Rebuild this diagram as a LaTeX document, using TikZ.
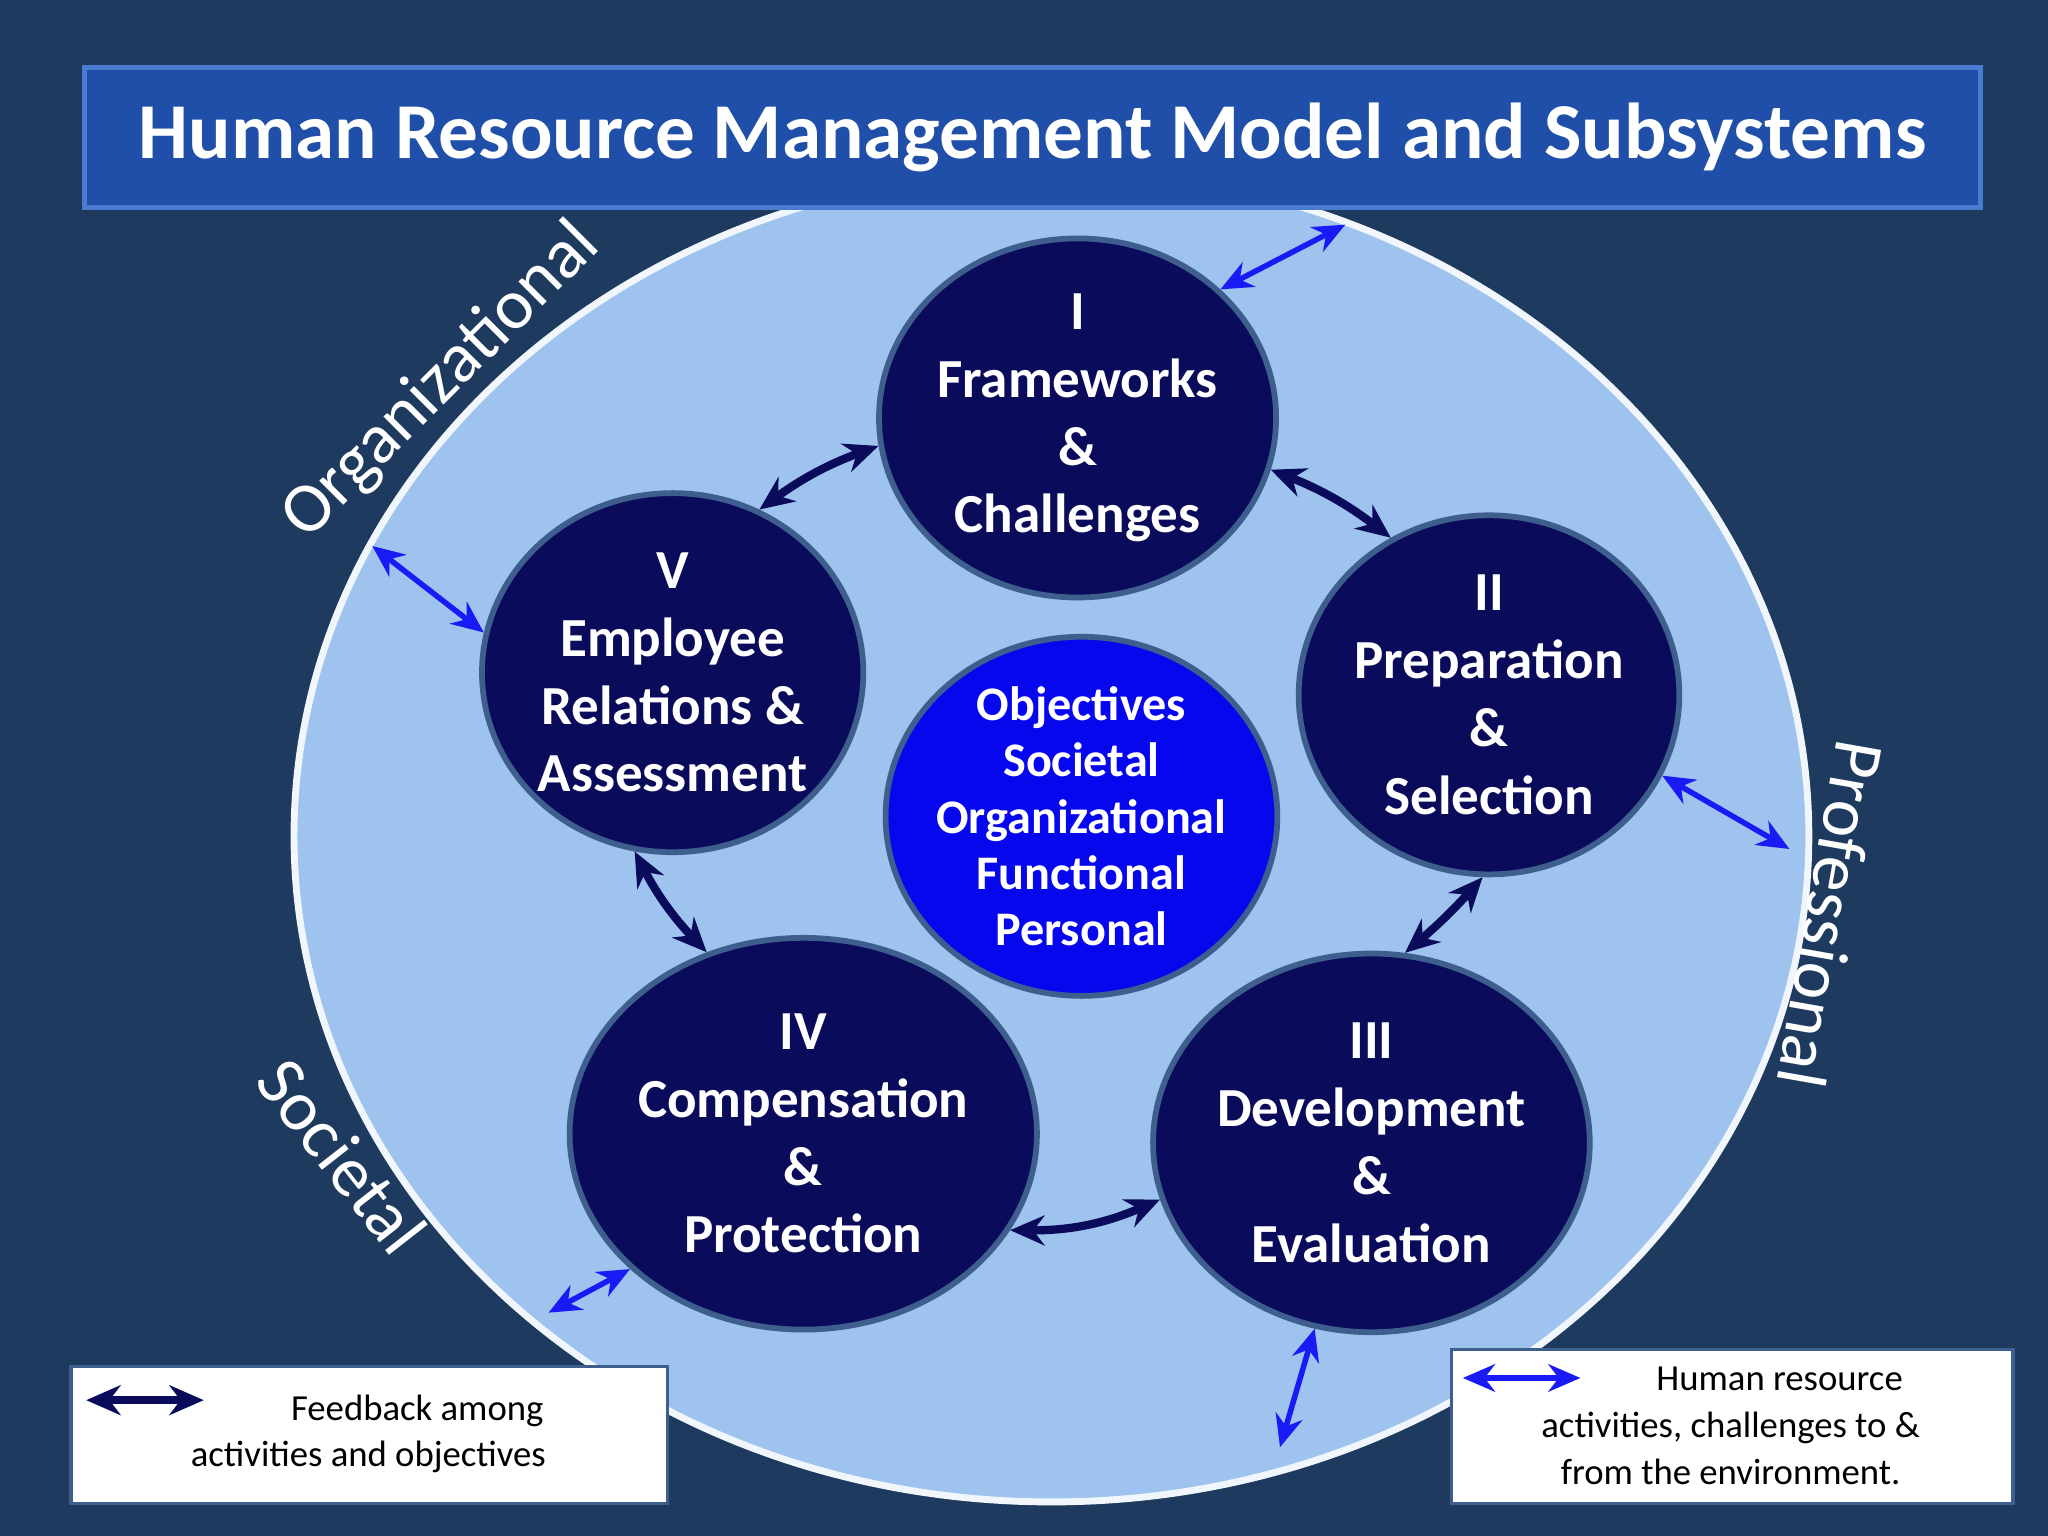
\documentclass[tikz,border=0pt]{standalone}
\usepackage{fontspec}
\setmainfont{Carlito}
\usetikzlibrary{arrows.meta,shapes.geometric,positioning}
\definecolor{bgnavy}{HTML}{1E3A5F}
\definecolor{titleblue}{HTML}{1F4FA8}
\definecolor{titleframe}{HTML}{4A7BD0}
\definecolor{fieldblue}{HTML}{9DC3EE}
\definecolor{circnavy}{HTML}{0B0B5C}
\definecolor{circframe}{HTML}{3E5E8E}
\definecolor{coreblue}{HTML}{0707EE}
\definecolor{envblue}{HTML}{1A1AF5}

\begin{document}
\begin{tikzpicture}[
    x=0.02cm, y=-0.02cm,
    >=Stealth,
    every node/.style={font=\bfseries},
    subsys/.style={
        ellipse,
        draw=circframe,
        line width=2.5pt,
        fill=circnavy,
        text=white,
        align=center,
        inner sep=0pt,
        font=\bfseries\fontsize{24}{29.5}\selectfont
    },
    feedback/.style={<->, circnavy, line width=3.6pt, >={Stealth[length=15pt,width=13pt]}},
    envarrow/.style={<->, envblue, line width=2.4pt, >={Stealth[length=14pt,width=12pt]}},
    sidelabel/.style={text=white, font=\fontsize{31}{34}\selectfont},
    legendbox/.style={rectangle, draw=circframe, line width=1.5pt, fill=white, anchor=north west}
]
    % background
    \fill[bgnavy] (0,0) rectangle (1568,1176);
    \useasboundingbox (0,0) rectangle (1568,1176);

    % environment field
    \node[ellipse, fill=fieldblue, draw=white!85!fieldblue, line width=3pt,
          minimum width=23.2cm, minimum height=20.4cm] (field) at (805,640) {};

    % title
    \node[rectangle, fill=titleblue, draw=titleframe, line width=2pt, anchor=north west,
          minimum width=29.04cm, minimum height=2.14cm] (title) at (63,50) {};
    \node[text=white, font=\bfseries\fontsize{34.5}{40}\selectfont] at (title.center)
        {Human Resource Management Model and Subsystems};

    % subsystems
    \node[subsys, minimum width=5.92cm, minimum height=5.5cm] (s1) at (825,320)
        {I\\Frameworks\\\&\\Challenges};
    \node[subsys, minimum width=5.8cm, minimum height=5.5cm] (s2) at (1140,532)
        {II\\Preparation\\\&\\Selection};
    \node[subsys, minimum width=6.5cm, minimum height=5.8cm] (s3) at (1050,875)
        {III\\Development\\\&\\Evaluation};
    \node[subsys, minimum width=6.8cm, minimum height=6cm] (s4) at (615,868)
        {IV\\Compensation\\\&\\Protection};
    \node[subsys, minimum width=5.8cm, minimum height=5.5cm] (s5) at (515,515)
        {V\\Employee\\Relations \&\\Assessment};
    \node[subsys, fill=coreblue, minimum width=6cm, minimum height=5.5cm, inner sep=-12pt,
          font=\bfseries\fontsize{21}{24.5}\selectfont] (core) at (828,625)
        {Objectives\\Societal\\Organizational\\Functional\\Personal};

    % feedback among subsystems
    \draw[feedback] (s1.188) to[bend right=8] (s5.62);
    \draw[feedback] (s1.345) to[bend left=8] (s2.122);
    \draw[feedback] (s2.268) to[bend left=4] (s3.80);
    \draw[feedback] (s3.195) to[bend left=12] (s4.335);
    \draw[feedback] (s5.258) to[bend right=8] (s4.118);

    % exchange with the environment
    \coordinate (e1) at (1030,172);
    \coordinate (e2) at (1370,650);
    \coordinate (e3) at (980,1108);
    \coordinate (e4) at (420,1005);
    \coordinate (e5) at (285,418);
    \draw[envarrow] (s1.42) -- (e1);
    \draw[envarrow] (s2.335) -- (e2);
    \draw[envarrow] (s3.253) -- (e3);
    \draw[envarrow] (s4.218) -- (e4);
    \draw[envarrow] (s5.168) -- (e5);

    % side labels
    \node[sidelabel, rotate=45] (orglab) at (338,292) {Organizational};
    \node[sidelabel, rotate=-100] (proflab) at (1402,700) {Professional};
    \node[sidelabel, rotate=-52] (soclab) at (262,885) {Societal};

    % legend
    \node[legendbox, minimum width=9.14cm, minimum height=2.1cm] (leg1) at (53,1045) {};
    \coordinate (l1a) at (66,1072);
    \coordinate (l1b) at (156,1072);
    \draw[feedback] (l1a) -- (l1b);
    \node[align=center, font=\fontsize{16}{20}\selectfont] (leg1txt) at (282,1098)
        {\hspace*{1.5cm}Feedback among\\activities and objectives};

    \node[legendbox, minimum width=8.6cm, minimum height=2.36cm] (leg2) at (1110,1032) {};
    \coordinate (l2a) at (1120,1055);
    \coordinate (l2b) at (1210,1055);
    \draw[envarrow, line width=3pt] (l2a) -- (l2b);
    \node[align=center, font=\fontsize{16}{20.5}\selectfont] (leg2txt) at (1325,1092)
        {\hspace*{1.5cm}Human resource\\activities, challenges to \&\\from the environment.};
\end{tikzpicture}
\end{document}
